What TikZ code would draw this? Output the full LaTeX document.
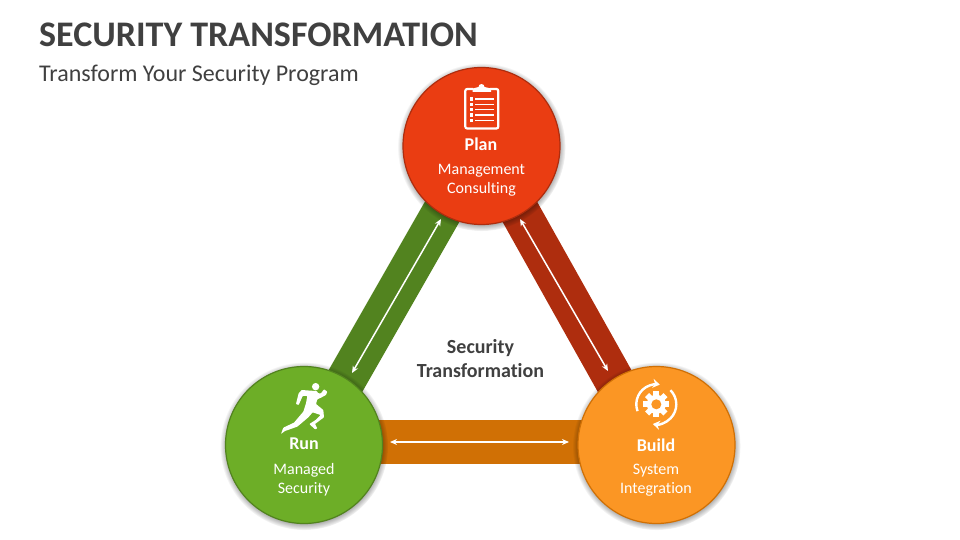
\documentclass[tikz,border=0pt]{standalone}
\usepackage{fontspec}
\setmainfont[Ligatures=NoCommon]{Carlito}
\usetikzlibrary{positioning,arrows.meta,shadows}
\definecolor{planred}{HTML}{EA3D12}
\definecolor{planedge}{HTML}{AE2D0E}
\definecolor{rungreen}{HTML}{6DAE27}
\definecolor{runedge}{HTML}{52831F}
\definecolor{buildorange}{HTML}{FB9624}
\definecolor{buildedge}{HTML}{D07005}
\definecolor{titlegrey}{HTML}{404040}
\tikzset{
hub/.style={circle, minimum size=157pt, inner sep=0pt, line width=1.2pt,
  circular drop shadow={shadow xshift=0pt, shadow yshift=-1pt, shadow scale=1.07, fill=black, opacity=0.6}},
hubname/.style={text=white, font=\fontsize{18}{20}\selectfont\bfseries},
hubtext/.style={text=white, align=center, font=\fontsize{16}{19}\selectfont},
link/.style={line width=40pt},
flow/.style={white, line width=1.5pt, {Stealth[length=7pt,width=6pt]}-{Stealth[length=7pt,width=6pt]}},
cycler/.style={white, line width=2.4pt, -{Stealth[length=7pt,width=9pt]}}
}
\begin{document}
\begin{tikzpicture}[x=1pt, y=-1pt]
  \useasboundingbox (0,0) rectangle (960,540);
  \node[anchor=west, inner sep=0pt, text=titlegrey, font=\fontsize{36}{40}\selectfont\bfseries] (title) at (39,35) {SECURITY TRANSFORMATION};
  \node[anchor=west, inner sep=0pt, text=titlegrey, font=\fontsize{24}{28}\selectfont] (subtitle) at (39,75) {Transform Your Security Program};
  % ends of the bars and arrows
  \coordinate (gt) at (446,205);
  \coordinate (gb) at (342,387);
  \coordinate (rt) at (516,205);
  \coordinate (rb) at (618,387);
  \coordinate (ot) at (360,442);
  \coordinate (ob) at (600,442);
  \coordinate (at1) at (441,219);
  \coordinate (ab1) at (352,373);
  \coordinate (at2) at (520,219);
  \coordinate (ab2) at (608,371);
  \coordinate (al) at (390,442);
  \coordinate (ar) at (569,442);
  % bars
  \draw[link, runedge] (gb) -- (gt);
  \draw[link, planedge] (rt) -- (rb);
  \draw[link, line width=44pt, buildedge] (ot) -- (ob);
  \draw[flow] (ab1) -- (at1);
  \draw[flow] (at2) -- (ab2);
  \draw[flow] (al) -- (ar);
  % circles
  \node[hub, fill=planred, draw=planedge] (plan) at (481.5,146) {};
  \node[hub, fill=rungreen, draw=runedge] (run) at (304,445) {};
  \node[hub, fill=buildorange, draw=buildedge] (build) at (656.5,445) {};
  \node[hubname] (planname) at (481,144) {Plan};
  \node[hubtext] (plantext) at (481.5,180) {Management\\Consulting};
  \node[hubname] (runname) at (304,444) {Run};
  \node[hubtext] (runtext) at (304,480) {Managed\\Security};
  \node[hubname] (buildname) at (656,445) {Build};
  \node[hubtext] (buildtext) at (656,480) {System\\Integration};
  \node[align=center, text=titlegrey, font=\fontsize{20}{24}\selectfont\bfseries] (centre) at (480.5,359) {Security\\Transformation};
  % clipboard
  \draw[white, line width=2.2pt, rounded corners=2pt] (473,89) -- (465.3,89) -- (465.3,128.5) -- (498.3,128.5) -- (498.3,89) -- (490,89);
  \fill[white] (472.5,92) -- (472.5,88.5) -- (478.5,87) arc[start angle=180, end angle=0, radius=3pt] -- (491,88.5) -- (491,92) -- cycle;
  \foreach \iy in {99,104.3,109.6,115,120.5} {
    \fill[white] (469.5,\iy-1.6) rectangle (472.8,\iy+1.6);
    \draw[white, line width=1.5pt] (475,\iy) -- (494,\iy);
  }
  % runner
  \begin{scope}[shift={(220,360)}, x=0.3333pt, y=-0.3333pt]
    \fill[white] (287,80) circle[radius=3.7pt];
    \fill[white, rounded corners=0.6pt] (272,92) -- (245,90) -- (236,100) -- (228,132) -- (236,135) -- (248,108) -- (262,108) -- (258,130) -- (250,155) -- (222,188) -- (190,203) -- (183,222) -- (195,213) -- (232,200) -- (265,172) -- (278,157) -- (302,165) -- (287,180) -- (268,192) -- (285,208) -- (292,205) -- (285,192) -- (312,172) -- (310,150) -- (288,132) -- (292,118) -- (305,112) -- (318,105) -- (322,95) -- (312,88) -- (303,100) -- (295,100) -- (290,93) -- cycle;
  \end{scope}
  % gear and arrows
  \begin{scope}[shift={(656.3,404.3)}, x=1pt, y=1pt]
    \fill[white] (0,0) circle[radius=9.5pt];
    \foreach \ang in {0,45,...,315} {
      \fill[white, rotate=\ang] (-2.9,7) rectangle (2.9,13);
    }
    \fill[buildorange] (0,0) circle[radius=5pt];
    \draw[cycler] (200:20) arc[start angle=200, end angle=80, radius=20pt];
    \draw[cycler] (45:20) arc[start angle=45, end angle=-100, radius=20pt];
  \end{scope}
\end{tikzpicture}
\end{document}
